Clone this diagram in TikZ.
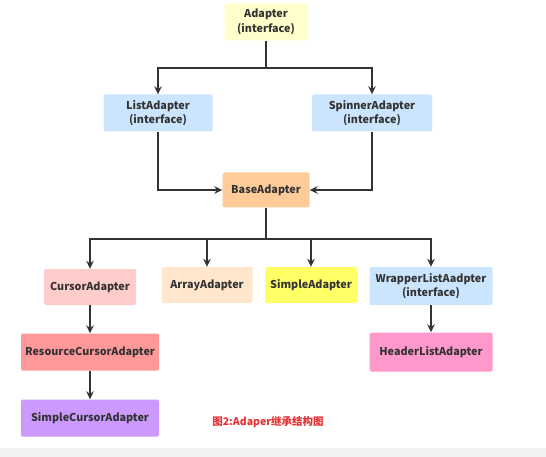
\documentclass[tikz,border=0pt]{standalone}
\usepackage{fontspec}
\setmainfont{Noto Sans CJK SC}
\usetikzlibrary{positioning,arrows.meta}

\definecolor{textgray}{HTML}{333333}
\definecolor{linegray}{HTML}{333333}
\definecolor{cyellow}{HTML}{FFFFCC}
\definecolor{cblue}{HTML}{CCE5FF}
\definecolor{corange}{HTML}{FFCC99}
\definecolor{cpink}{HTML}{FFCCCC}
\definecolor{cpeach}{HTML}{FFE6CC}
\definecolor{clemon}{HTML}{FFFF66}
\definecolor{csalmon}{HTML}{FF9999}
\definecolor{cmagenta}{HTML}{FF99CC}
\definecolor{cviolet}{HTML}{CC99FF}
\definecolor{captionred}{HTML}{E53333}

\begin{document}
\begin{tikzpicture}[
    x=1pt, y=-1pt,
    box/.style={rounded corners=1.5pt, inner sep=0pt, minimum height=37pt,
        align=center, text=textgray, font=\fontsize{10.8}{14.5}\selectfont\bfseries},
    link/.style={draw=linegray, line width=1.4pt},
    >={Stealth[length=8pt, width=7.5pt]}
]

\useasboundingbox (0,0) rectangle (546,457);
\fill[black!5] (0,448) rectangle (546,457);

% Nivel 0
\node[box, fill=cyellow, minimum width=83pt] (adapter) at (266,22) {Adapter\\(interface)};

% Nivel 1
\node[box, fill=cblue, minimum width=109pt] (list) at (158,113) {ListAdapter\\(interface)};
\node[box, fill=cblue, minimum width=120pt] (spinner) at (372,113) {SpinnerAdapter\\(interface)};

% Nivel 2
\node[box, fill=corange, minimum width=87pt, minimum height=35pt] (base) at (266,190) {BaseAdapter};

% Nivel 3
\node[box, fill=cpink, minimum width=92pt, minimum height=36pt] (cursor) at (90,287) {CursorAdapter};
\node[box, fill=cpeach, minimum width=91pt, minimum height=36pt] (array) at (207,285) {ArrayAdapter};
\node[box, fill=clemon, minimum width=92pt, minimum height=36pt] (simple) at (311,285) {SimpleAdapter};
\node[box, fill=cblue, minimum width=123pt, minimum height=38pt] (wrapper) at (431,286) {WrapperListAadpter\\(interface)};

% Nivel 4
\node[box, fill=csalmon, minimum width=138pt] (resource) at (90,352) {ResourceCursorAdapter};
\node[box, fill=cmagenta, minimum width=123pt, minimum height=39pt] (header) at (431,352) {HeaderListAdapter};

% Nivel 5
\node[box, fill=cviolet, minimum width=138pt] (simplecursor) at (90,418) {SimpleCursorAdapter};

% Legenda
\node[text=captionred, font=\fontsize{10.5}{12}\selectfont\bfseries] (caption) at (268,422) {图2:Adaper继承结构图};

% --- Pontos de ramificacao ---
\coordinate (split1) at (266,68);
\coordinate (split2) at (266,239);

% --- Arestas ---
\draw[link] (adapter) -- (split1);
\draw[link, ->] (split1) -| (list);
\draw[link, ->] (split1) -| (spinner);

\draw[link, ->] (list) |- (base);
\draw[link, ->] (spinner) |- (base);

\draw[link] (base) -- (split2);
\draw[link, ->] (split2) -| (cursor);
\draw[link, ->] (split2) -| (array);
\draw[link, ->] (split2) -| (simple);
\draw[link, ->] (split2) -| (wrapper);

\draw[link, ->] (cursor) -- (resource);
\draw[link, ->] (resource) -- (simplecursor);
\draw[link, ->] (wrapper) -- (header);

\end{tikzpicture}
\end{document}
